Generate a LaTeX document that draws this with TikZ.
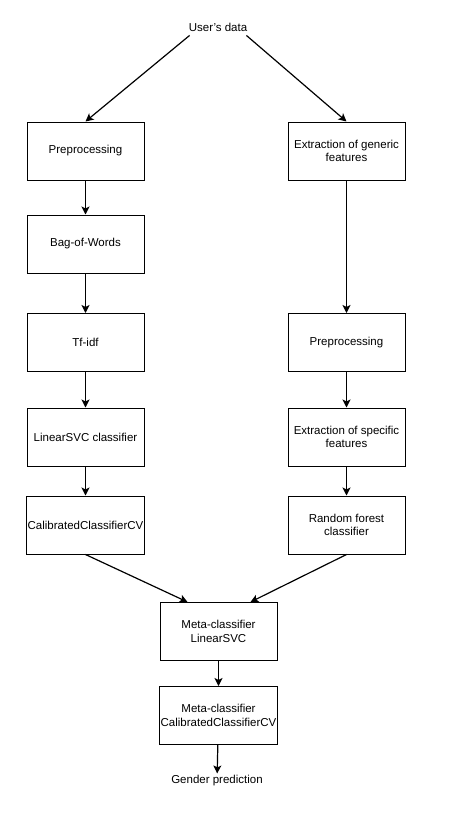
\documentclass[tikz,border=0pt]{standalone}
\usepackage{fontspec}
\setmainfont{Liberation Sans}
\usetikzlibrary{arrows.meta,positioning}

\begin{document}
\begin{tikzpicture}[x=1pt,y=-1pt,font=\fontsize{11.5}{13.5}\selectfont,
        block/.style={draw,line width=1pt,minimum width=117pt,minimum height=58pt,align=center,inner sep=1pt},
        label/.style={inner sep=2pt},
        flow/.style={-{Stealth[length=8pt,width=8pt,inset=2pt]},line width=1.2pt}]
        \useasboundingbox (0,0) rectangle (474,822);
        \node[label] at (218,27)(user){User's data};
        \node[block] at (85.5,151)(pre1){Preprocessing};
        \node[block] at (85.5,244)(bow){Bag-of-Words};
        \node[block] at (85.5,342.5)(tfidf){Tf-idf};
        \node[block] at (85.5,437)(svc){LinearSVC classifier};
        \node[block] at (85.5,525)(calib){CalibratedClassifierCV};
        \node[block] at (346.5,151)(gen){Extraction of generic\\features};
        \node[block] at (346.5,342.5)(pre2){Preprocessing};
        \node[block] at (346.5,437)(spec){Extraction of specific\\features};
        \node[block] at (346.5,525)(forest){Random forest\\classifier};
        \node[block] at (218.5,631.5)(meta1){Meta-classifier\\LinearSVC};
        \node[block] at (218.5,715.5)(meta2){Meta-classifier\\CalibratedClassifierCV};
        \node[label] at (217,781)(gender){Gender prediction};
        
        \path[flow]
            ([xshift=3pt,yshift=-2pt]user.south west)edge(pre1.north)
            ([xshift=-3pt,yshift=-2pt]user.south east)edge(gen.north)
            (pre1)edge(bow)
            (bow)edge(tfidf)
            (tfidf)edge(svc)
            (svc)edge(calib)
            (gen)edge(pre2)
            (pre2)edge(spec)
            (spec)edge(forest)
            (calib.south)edge([xshift=28pt]meta1.north west)
            (forest.south)edge([xshift=-27pt]meta1.north east)
            (meta1)edge(meta2)
            (meta2)edge(gender)
            ;
    \end{tikzpicture}
\end{document}
